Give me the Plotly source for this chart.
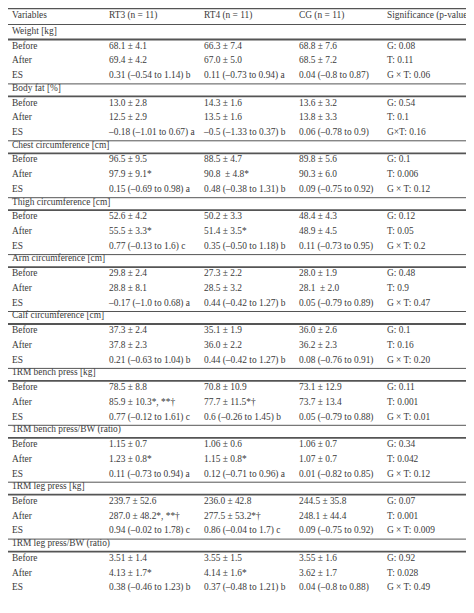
import plotly.graph_objects as go

headers = ["Variables", "RT3 (n = 11)", "RT4 (n = 11)", "CG (n = 11)", "Significance (p-values)"]
row_labels = ["Before", "After", "ES"]
sections = ["Weight [kg]", "Body fat [%]", "Chest circumference [cm]", "Thigh circumference [cm]",
            "Arm circumference [cm]", "Calf circumference [cm]", "1RM bench press [kg]",
            "1RM bench press/BW (ratio)", "1RM leg press [kg]", "1RM leg press/BW (ratio)"]

rt3 = [
    ["68.1 ± 4.1", "69.4 ± 4.2", "0.31 (–0.54 to 1.14) b"],
    ["13.0 ± 2.8", "12.5 ± 2.9", "–0.18 (–1.01 to 0.67) a"],
    ["96.5 ± 9.5", "97.9 ± 9.1*", "0.15 (–0.69 to 0.98) a"],
    ["52.6 ± 4.2", "55.5 ± 3.3*", "0.77 (–0.13 to 1.6) c"],
    ["29.8 ± 2.4", "28.8 ± 8.1", "–0.17 (–1.0 to 0.68) a"],
    ["37.3 ± 2.4", "37.8 ± 2.3", "0.21 (–0.63 to 1.04) b"],
    ["78.5 ± 8.8", "85.9 ± 10.3*, **†", "0.77 (–0.12 to 1.61) c"],
    ["1.15 ± 0.7", "1.23 ± 0.8*", "0.11 (–0.73 to 0.94) a"],
    ["239.7 ± 52.6", "287.0 ± 48.2*, **†", "0.94 (–0.02 to 1.78) c"],
    ["3.51 ± 1.4", "4.13 ± 1.7*", "0.38 (–0.46 to 1.23) b"],
]
rt4 = [
    ["66.3 ± 7.4", "67.0 ± 5.0", "0.11 (–0.73 to 0.94) a"],
    ["14.3 ± 1.6", "13.5 ± 1.6", "–0.5 (–1.33 to 0.37) b"],
    ["88.5 ± 4.7", "90.8  ± 4.8*", "0.48 (–0.38 to 1.31) b"],
    ["50.2 ± 3.3", "51.4 ± 3.5*", "0.35 (–0.50 to 1.18) b"],
    ["27.3 ± 2.2", "28.5 ± 3.2", "0.44 (–0.42 to 1.27) b"],
    ["35.1 ± 1.9", "36.0 ± 2.2", "0.44 (–0.42 to 1.27) b"],
    ["70.8 ± 10.9", "77.7 ± 11.5*†", "0.6 (–0.26 to 1.45) b"],
    ["1.06 ± 0.6", "1.15 ± 0.8*", "0.12 (–0.71 to 0.96) a"],
    ["236.0 ± 42.8", "277.5 ± 53.2*†", "0.86 (–0.04 to 1.7) c"],
    ["3.55 ± 1.5", "4.14 ± 1.6*", "0.37 (–0.48 to 1.21) b"],
]
cg = [
    ["68.8 ± 7.6", "68.5 ± 7.2", "0.04 (–0.8 to 0.87)"],
    ["13.6 ± 3.2", "13.8 ± 3.3", "0.06 (–0.78 to 0.9)"],
    ["89.8 ± 5.6", "90.3 ± 6.0", "0.09 (–0.75 to 0.92)"],
    ["48.4 ± 4.3", "48.9 ± 4.5", "0.11 (–0.73 to 0.95)"],
    ["28.0 ± 1.9", "28.1  ± 2.0", "0.05 (–0.79 to 0.89)"],
    ["36.0 ± 2.6", "36.2 ± 2.3", "0.08 (–0.76 to 0.91)"],
    ["73.1 ± 12.9", "73.7 ± 13.4", "0.05 (–0.79 to 0.88)"],
    ["1.06 ± 0.7", "1.07 ± 0.7", "0.01 (–0.82 to 0.85)"],
    ["244.5 ± 35.8", "248.1 ± 44.4", "0.09 (–0.75 to 0.92)"],
    ["3.55 ± 1.6", "3.62 ± 1.7", "0.04 (–0.8 to 0.88)"],
]
sig = [
    ["G: 0.08", "T: 0.11", "G × T: 0.06"],
    ["G: 0.54", "T: 0.1", "G×T: 0.16"],
    ["G: 0.1", "T: 0.006", "G × T: 0.12"],
    ["G: 0.12", "T: 0.05", "G × T: 0.2"],
    ["G: 0.48", "T: 0.9", "G × T: 0.47"],
    ["G: 0.1", "T: 0.16", "G × T: 0.20"],
    ["G: 0.11", "T: 0.001", "G × T: 0.01"],
    ["G: 0.34", "T: 0.042", "G × T: 0.12"],
    ["G: 0.07", "T: 0.001", "G × T: 0.009"],
    ["G: 0.92", "T: 0.028", "G × T: 0.49"],
]

col_x = [4, 101, 196, 291, 379]
W, H = 474, 613
head_y = 8
sec_top = 23.5
sec_h = 56.9
row_h = 14.8

xs, ys, txt = [], [], []
for j, h in enumerate(headers):
    xs.append(col_x[j]); ys.append(head_y); txt.append(h)

shapes = []
def hline(y, w):
    shapes.append(dict(type="line", x0=0, x1=W, y0=y, y1=y, line=dict(color="#555", width=w)))

hline(0.6, 1.2)
hline(16.5, 1)
for i, s in enumerate(sections):
    y0 = sec_top + i * sec_h
    xs.append(col_x[0]); ys.append(y0); txt.append(s)
    hline(y0 + 8, 1.8)
    for k in range(3):
        y = y0 + (k + 1) * row_h
        for j, v in enumerate([row_labels[k], rt3[i][k], rt4[i][k], cg[i][k], sig[i][k]]):
            xs.append(col_x[j]); ys.append(y); txt.append(v)
    if i < len(sections) - 1:
        hline(y0 + 4 * row_h - 6.8, 1)

fig = go.Figure(go.Scatter(x=xs, y=ys, text=txt, mode="text", textposition="middle right",
                           textfont=dict(family="Liberation Serif", size=9.4, color="#3a3a3a"),
                           hoverinfo="skip"))
fig.update_layout(width=W, height=H, margin=dict(l=0, r=0, t=0, b=0),
                  plot_bgcolor="white", paper_bgcolor="white", showlegend=False, shapes=shapes)
fig.update_xaxes(range=[0, W], visible=False, fixedrange=True)
fig.update_yaxes(range=[H, 0], visible=False, fixedrange=True)
fig.write_html("out.html", config={"displayModeBar": False})
